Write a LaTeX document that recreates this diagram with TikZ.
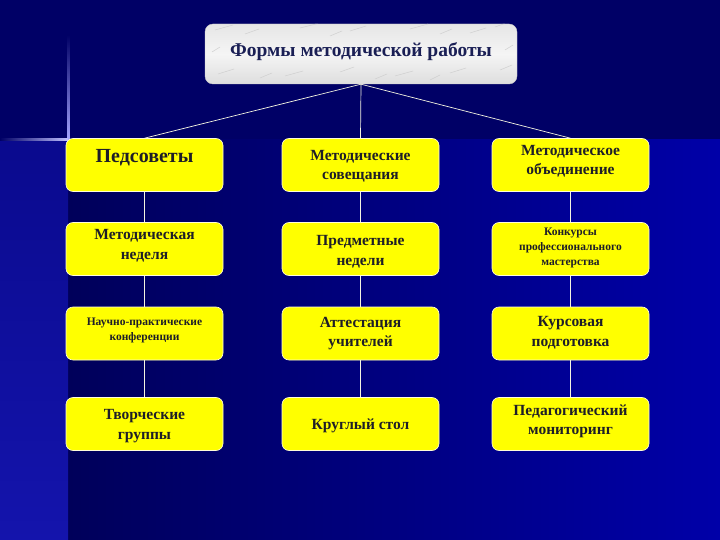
\documentclass[tikz,border=0pt]{standalone}
\usepackage{fontspec}
\setmainfont{Liberation Serif}
\definecolor{navy}{HTML}{000066}
\definecolor{navyB}{HTML}{00005A}
\definecolor{blueR}{HTML}{0000A8}
\definecolor{stripT}{HTML}{0A0A8E}
\definecolor{stripB}{HTML}{1414AC}
\definecolor{boxY}{HTML}{FFFF00}
\definecolor{txt}{HTML}{1E1E28}
\definecolor{ttl}{HTML}{1A1F55}
\definecolor{lineC}{HTML}{F4F4E0}
\tikzset{
  ybox/.style={rectangle, rounded corners=7pt, fill=boxY, draw=white!85!yellow, line width=0.6pt,
    minimum width=157pt, minimum height=53pt},
  ytext/.style={align=center, inner sep=0pt, text=txt},
  conn/.style={draw=lineC, line width=0.7pt},
  big/.style={ytext, font=\fontsize{20}{23}\selectfont\bfseries},
  mid/.style={ytext, font=\fontsize{15.5}{19.5}\selectfont\bfseries},
  sml/.style={ytext, font=\fontsize{11.5}{15}\selectfont\bfseries}
}
\begin{document}
\begin{tikzpicture}[x=1pt,y=-1pt]
\useasboundingbox (0,0) rectangle (720,540);
% background
\fill[navy] (0,0) rectangle (720,540);
\shade[left color=navyB, right color=blueR] (68,140) rectangle (720,540);
\shade[top color=stripT, bottom color=stripB] (0,140) rectangle (68,540);
% glow lines
\shade[top color=navy, bottom color=blue!35!white] (67,35) rectangle (69.3,140);
\shade[left color=navy, right color=blue!25!white] (0,139) rectangle (68,141);
% title
\node[rectangle, rounded corners=8pt, minimum width=312pt, minimum height=60pt,
  top color=gray!20, bottom color=gray!26, middle color=gray!8, draw=gray!40] (title) at (361,54) {};
\begin{scope}
\clip[rounded corners=8pt] (205,24) rectangle (517,84);
\foreach \x/\y/\l in {215/30/18, 245/34/14, 300/28/20, 330/36/12, 350/31/16, 410/29/18, 440/34/12, 470/33/16, 495/27/14,
  218/74/16, 260/78/12, 285/76/18, 340/72/14, 375/79/12, 395/76/18, 430/80/10, 450/73/16, 500/70/12, 212/52/8, 505/50/8}
  \draw[gray!38, line width=0.5pt] (\x,\y) -- ++(\l,-5);
\end{scope}
\node[font=\fontsize{19.5}{22}\selectfont\bfseries, text=ttl, inner sep=0pt] (ttext) at (361,52) {Формы методической работы};
% boxes
\node[ybox] (b11) at (144.5,165) {};
\node[ybox] (b12) at (360.5,165) {};
\node[ybox] (b13) at (570.5,165) {};
\node[ybox] (b21) at (144.5,249) {};
\node[ybox] (b22) at (360.5,249) {};
\node[ybox] (b23) at (570.5,249) {};
\node[ybox] (b31) at (144.5,333.5) {};
\node[ybox] (b32) at (360.5,333.5) {};
\node[ybox] (b33) at (570.5,333.5) {};
\node[ybox] (b41) at (144.5,424) {};
\node[ybox] (b42) at (360.5,424) {};
\node[ybox] (b43) at (570.5,424) {};
% texts
\node[big] (t11) at (144.5,158) {Педсоветы};
\node[mid] (t12) at (360.5,166.5) {Методические\\совещания};
\node[mid] (t13) at (570.5,161.5) {Методическое\\объединение};
\node[mid] (t21) at (144.5,246) {Методическая\\неделя};
\node[mid] (t22) at (360.5,252) {Предметные\\недели};
\node[sml] (t23) at (570.5,248) {Конкурсы\\профессионального\\мастерства};
\node[sml] (t31) at (144.5,330.5) {Научно-практические\\конференции};
\node[mid] (t32) at (360.5,333.5) {Аттестация\\учителей};
\node[mid] (t33) at (570.5,333) {Курсовая\\подготовка};
\node[mid] (t41) at (144.5,426) {Творческие\\группы};
\node[mid] (t42) at (360.5,426) {Круглый стол};
\node[mid] (t43) at (570.5,421.5) {Педагогический\\мониторинг};
% connectors
\draw[conn] (title.south) -- (b11.north);
\draw[conn] (title.south) -- (b12.north);
\draw[conn] (title.south) -- (b13.north);
\foreach \c in {1,2,3}{
  \draw[conn] (b1\c.south) -- (b2\c.north);
  \draw[conn] (b2\c.south) -- (b3\c.north);
  \draw[conn] (b3\c.south) -- (b4\c.north);
}
\end{tikzpicture}
\end{document}
